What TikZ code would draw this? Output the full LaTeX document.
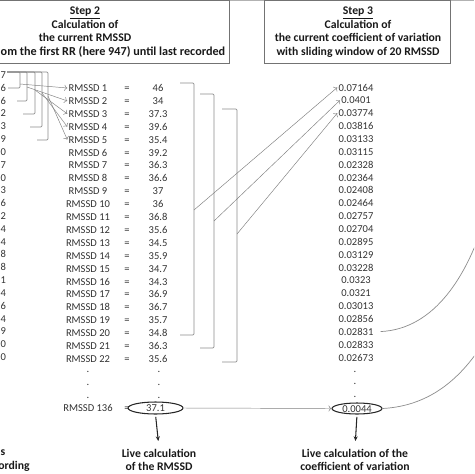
\documentclass[tikz,border=0pt]{standalone}
\usepackage{fontspec}
\setmainfont{Carlito}
\usetikzlibrary{shapes.geometric,arrows.meta}

\begin{document}
\begin{tikzpicture}[x=0.03cm, y=-0.03cm,
  every node/.style={font=\fontsize{9}{11}\selectfont, text=black!80, inner sep=1pt},
  row/.style={text height=6pt, text depth=0pt},
  head/.style={row, font=\fontsize{10}{11}\selectfont\bfseries, text=black!90},
  frame/.style={draw=black!55, line width=0.6pt},
  brk/.style={draw=black!45, line width=0.6pt, rounded corners=1pt},
  link/.style={->, draw=black!50, line width=0.4pt},
  oval/.style={ellipse, draw=black!85, line width=0.9pt, inner sep=0pt},
  down/.style={-{Stealth[length=4pt,width=3.5pt]}, draw=black!85, line width=0.9pt}]
\useasboundingbox (0,0) rectangle (474,474);
\clip (0,0) rectangle (474,474);

% headers
\draw[draw=black!30] (0,0.7) -- (474,0.7);
\draw[frame] (-5,0.7) rectangle (229,63);
\draw[frame] (264,0.7) rectangle (450,63);
\node[head] (s2) at (85,11) {\underline{Step 2}};
\node[head] (s2a) at (85,24.5) {Calculation of};
\node[head] (s2b) at (85,38) {the current RMSSD};
\node[head,font=\fontsize{10.4}{11}\selectfont\bfseries,anchor=west,inner sep=0pt] (s2c) at (0.5,52) {om the first RR (here 947) until last recorded};
\node[head] (s3) at (358,11) {\underline{Step 3}};
\node[head] (s3a) at (358,24.5) {Calculation of};
\node[head] (s3b) at (358,38) {the current coefficient of variation};
\node[head] (s3c) at (358,52) {with sliding window of 20 RMSSD};

% RR column at the left edge
\foreach \d [count=\j] in {7,6,6,2,3,9,0,7,0,3,6,2,4,4,8,8,1,4,6,4,9,0,0}
  \node[row,anchor=west,inner sep=0pt] (rr\j) at (0.5,{75+12.82*(\j-1)}) {\d};

% RMSSD column
\foreach \v [count=\k] in {46,34,37.3,39.6,35.4,39.2,36.3,36.6,37,36,36.8,35.6,34.5,35.9,34.7,34.3,36.9,36.7,35.7,34.8,36.3,35.6} {
  \node[row] (rm\k) at (88,{88+12.9*(\k-1)}) {RMSSD \k};
  \node[row] (eq\k) at (127,{88+12.9*(\k-1)}) {=};
  \node[row] (val\k) at (158,{88+12.9*(\k-1)}) {\v};
}
\foreach \d/\y in {1/368.5,2/382,3/395} {
  \node[row] (rmdot\d) at (88,\y) {.};
  \node[row] (valdot\d) at (159,\y) {.};
}
\node[row] (rm136) at (88,407.5) {RMSSD 136};
\node[row] (eq136) at (127,408) {=};
\node[oval,row,minimum width=1.65cm,minimum height=0.36cm] (e1) at (155.5,408) {37.1};

% coefficient of variation column
\foreach \c [count=\k] in {0.07164,0.0401,0.03774,0.03816,0.03133,0.03115,0.02328,0.02364,0.02408,0.02464,0.02757,0.02704,0.02895,0.03129,0.03228,0.0323,0.0321,0.03013,0.02856,0.02831,0.02833,0.02673}
  \node[row] (cv\k) at (356,{87.5+12.86*(\k-1)}) {\c};
\foreach \d/\y in {1/368.5,2/380.5,3/393.5}
  \node[row] (cvdot\d) at (355,\y) {.};
\node[oval,row,minimum width=1.5cm,minimum height=0.33cm] (e2) at (357,408.5) {0.0044};

% brackets RR -> RMSSD
\draw[brk] (7,72) -- (20,72) -- (20,88) -- (8,88);
\draw[brk] (7,72) -- (27,72) -- (27,101) -- (17,101);
\draw[brk] (7,72) -- (35,72) -- (35,114) -- (23,114);
\draw[brk] (7,72) -- (42,72) -- (42,127) -- (30,127);
\draw[brk] (7,72) -- (48,72) -- (48,140) -- (37,140);
\coordinate (f1) at (20,84);
\coordinate (f2) at (27,87);
\coordinate (f3) at (35,90);
\coordinate (f4) at (42,93);
\coordinate (f5) at (48,96);
\foreach \k in {1,...,5}
  \draw[link] (f\k) -- (rm\k.west);

% sliding windows of 20 RMSSD
\draw[brk] (180,83) -- (194,83) -- (194,335) -- (180,335);
\draw[brk] (200,94) -- (214,94) -- (214,348) -- (200,348);
\draw[brk] (222,109) -- (237,109) -- (237,362) -- (222,362);
\coordinate (b1) at (194,210);
\coordinate (b2) at (214,221);
\coordinate (b3) at (237,234);
\draw[link] (b1) -- (cv1.west);
\draw[link] (b2) -- (cv2.west);
\draw[link] (b3) -- (cv3.west);

% live values
\draw[link] (e1.east) -- (e2.west);
\coordinate (o1) at (486,215);
\coordinate (o2) at (492,328);
\draw[draw=black!45,line width=0.6pt,shorten <=5pt] (cv20.east) .. controls (435,329) and (468,275) .. (o1);
\draw[draw=black!45,line width=0.6pt] (e2.east) .. controls (430,406) and (465,378) .. (o2);

\node[head,text height=,text depth=,align=center] (live1) at (159,460) {Live calculation\\of the RMSSD};
\node[head,text height=,text depth=,align=center] (live2) at (355,460) {Live calculation of the\\coefficient of variation};
\draw[down,shorten <=2pt,shorten >=6pt] (e1.south) -- (live1.north);
\draw[down,shorten <=2pt,shorten >=6pt] (e2.south) -- (live2.north);
\node[head,anchor=west,inner sep=0pt] (lefta) at (0.5,452) {s};
\node[head,anchor=east] (leftb) at (31,466) {ording};
\end{tikzpicture}
\end{document}
